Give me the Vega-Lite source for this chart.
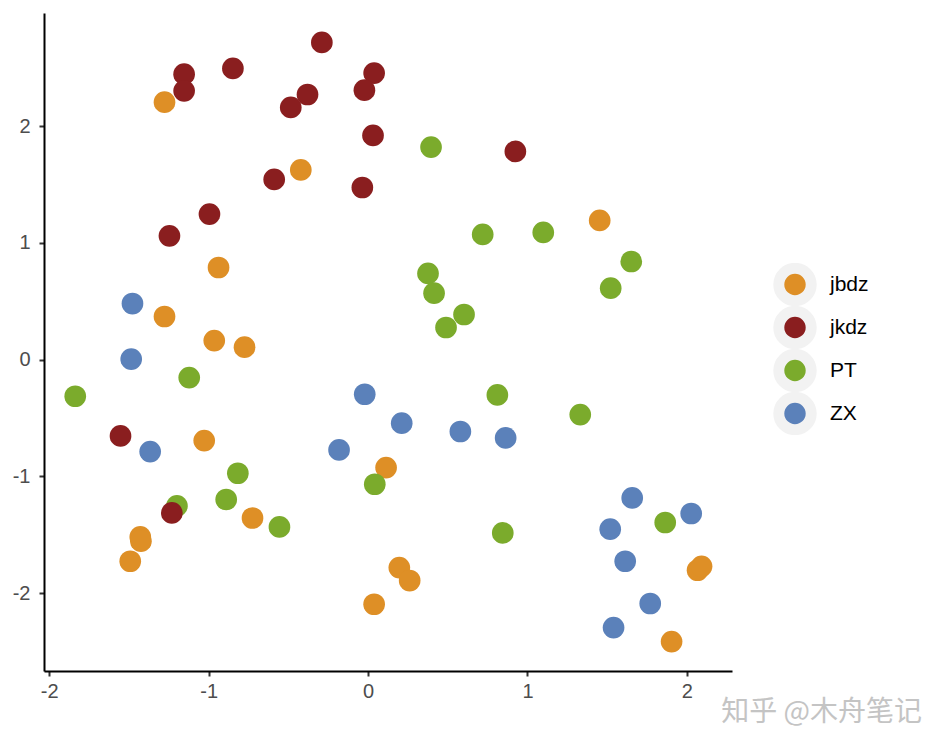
{
  "$schema": "https://vega.github.io/schema/vega-lite/v6.json",
  "autosize": {"type": "none"},
  "width": 688,
  "height": 658,
  "padding": {"left": 44, "top": 13, "right": 209, "bottom": 77},
  "background": "white",
  "config": {
    "view": {"stroke": null},
    "axis": {
      "grid": false,
      "domainColor": "black",
      "domainWidth": 2,
      "tickColor": "#333333",
      "tickWidth": 2,
      "tickSize": 5,
      "labelColor": "#4D4D4D",
      "labelFont": "Liberation Sans",
      "labelFontSize": 20,
      "title": null
    }
  },
  "title": {
    "text": "知乎 @木舟笔记",
    "orient": "bottom",
    "anchor": "end",
    "frame": "group",
    "font": "Noto Sans CJK SC",
    "fontSize": 28,
    "fontWeight": "normal",
    "color": "#C4C4C4",
    "offset": -2,
    "dx": 190
  },
  "data": {
    "values": [
      {"x": -1.277, "y": 2.206, "group": "jbdz"},
      {"x": -0.422, "y": 1.626, "group": "jbdz"},
      {"x": -0.938, "y": 0.790, "group": "jbdz"},
      {"x": -1.277, "y": 0.370, "group": "jbdz"},
      {"x": -0.965, "y": 0.164, "group": "jbdz"},
      {"x": -0.775, "y": 0.107, "group": "jbdz"},
      {"x": 1.453, "y": 1.193, "group": "jbdz"},
      {"x": -1.028, "y": -0.693, "group": "jbdz"},
      {"x": 0.113, "y": -0.924, "group": "jbdz"},
      {"x": -0.725, "y": -1.356, "group": "jbdz"},
      {"x": -1.429, "y": -1.518, "group": "jbdz"},
      {"x": -1.425, "y": -1.555, "group": "jbdz"},
      {"x": -1.492, "y": -1.727, "group": "jbdz"},
      {"x": 0.196, "y": -1.781, "group": "jbdz"},
      {"x": 0.261, "y": -1.892, "group": "jbdz"},
      {"x": 0.038, "y": -2.095, "group": "jbdz"},
      {"x": 2.067, "y": -1.804, "group": "jbdz"},
      {"x": 2.092, "y": -1.770, "group": "jbdz"},
      {"x": 1.904, "y": -2.415, "group": "jbdz"},
      {"x": 0.395, "y": 1.821, "group": "PT"},
      {"x": 0.719, "y": 1.073, "group": "PT"},
      {"x": 1.099, "y": 1.090, "group": "PT"},
      {"x": 1.651, "y": 0.841, "group": "PT"},
      {"x": 1.522, "y": 0.613, "group": "PT"},
      {"x": 0.376, "y": 0.739, "group": "PT"},
      {"x": 0.414, "y": 0.570, "group": "PT"},
      {"x": 0.602, "y": 0.387, "group": "PT"},
      {"x": 0.489, "y": 0.276, "group": "PT"},
      {"x": 0.811, "y": -0.302, "group": "PT"},
      {"x": 1.331, "y": -0.470, "group": "PT"},
      {"x": 1.864, "y": -1.395, "group": "PT"},
      {"x": 0.845, "y": -1.484, "group": "PT"},
      {"x": -1.122, "y": -0.153, "group": "PT"},
      {"x": -1.837, "y": -0.313, "group": "PT"},
      {"x": 0.042, "y": -1.067, "group": "PT"},
      {"x": -0.817, "y": -0.973, "group": "PT"},
      {"x": -0.890, "y": -1.198, "group": "PT"},
      {"x": -1.199, "y": -1.253, "group": "PT"},
      {"x": -0.556, "y": -1.433, "group": "PT"},
      {"x": -0.290, "y": 2.718, "group": "jkdz"},
      {"x": -1.154, "y": 2.446, "group": "jkdz"},
      {"x": -1.154, "y": 2.303, "group": "jkdz"},
      {"x": -0.848, "y": 2.495, "group": "jkdz"},
      {"x": 0.038, "y": 2.455, "group": "jkdz"},
      {"x": -0.023, "y": 2.309, "group": "jkdz"},
      {"x": -0.380, "y": 2.272, "group": "jkdz"},
      {"x": -0.485, "y": 2.161, "group": "jkdz"},
      {"x": 0.031, "y": 1.921, "group": "jkdz"},
      {"x": -0.589, "y": 1.544, "group": "jkdz"},
      {"x": -0.036, "y": 1.475, "group": "jkdz"},
      {"x": -0.995, "y": 1.247, "group": "jkdz"},
      {"x": -1.246, "y": 1.061, "group": "jkdz"},
      {"x": 0.924, "y": 1.784, "group": "jkdz"},
      {"x": -1.553, "y": -0.653, "group": "jkdz"},
      {"x": -1.231, "y": -1.313, "group": "jkdz"},
      {"x": -1.478, "y": 0.481, "group": "ZX"},
      {"x": -1.486, "y": 0.005, "group": "ZX"},
      {"x": -1.367, "y": -0.787, "group": "ZX"},
      {"x": -0.021, "y": -0.296, "group": "ZX"},
      {"x": 0.211, "y": -0.544, "group": "ZX"},
      {"x": -0.182, "y": -0.773, "group": "ZX"},
      {"x": 0.579, "y": -0.615, "group": "ZX"},
      {"x": 0.863, "y": -0.670, "group": "ZX"},
      {"x": 1.657, "y": -1.184, "group": "ZX"},
      {"x": 1.519, "y": -1.452, "group": "ZX"},
      {"x": 2.027, "y": -1.318, "group": "ZX"},
      {"x": 1.613, "y": -1.727, "group": "ZX"},
      {"x": 1.770, "y": -2.089, "group": "ZX"},
      {"x": 1.540, "y": -2.295, "group": "ZX"}
    ]
  },
  "mark": {"type": "circle", "size": 470, "opacity": 1},
  "encoding": {
    "x": {
      "field": "x",
      "type": "quantitative",
      "scale": {"domain": [-2.033, 2.283], "nice": false, "zero": false},
      "axis": {"values": [-2, -1, 0, 1, 2], "labelPadding": 5, "labelExpr": "'' + datum.value"}
    },
    "y": {
      "field": "y",
      "type": "quantitative",
      "scale": {"domain": [-2.667, 2.97], "nice": false, "zero": false},
      "axis": {"values": [-2, -1, 0, 1, 2], "labelPadding": 9, "labelExpr": "'' + datum.value"}
    },
    "color": {
      "field": "group",
      "type": "nominal",
      "scale": {
        "domain": ["jbdz", "jkdz", "PT", "ZX"],
        "range": ["#DE8F26", "#8A1E1F", "#7BAB2C", "#5B81BA"]
      },
      "legend": {
        "title": null,
        "orient": "none",
        "legendX": 729,
        "legendY": 250,
        "symbolType": "circle",
        "symbolSize": 1050,
        "symbolOpacity": 1,
        "symbolStrokeColor": "#F2F2F2",
        "symbolStrokeWidth": 11,
        "rowPadding": 0,
        "clipHeight": 43,
        "labelFont": "Liberation Sans",
        "labelFontSize": 21,
        "labelColor": "black",
        "labelOffset": 13
      }
    },
    "order": {"value": 0}
  }
}
